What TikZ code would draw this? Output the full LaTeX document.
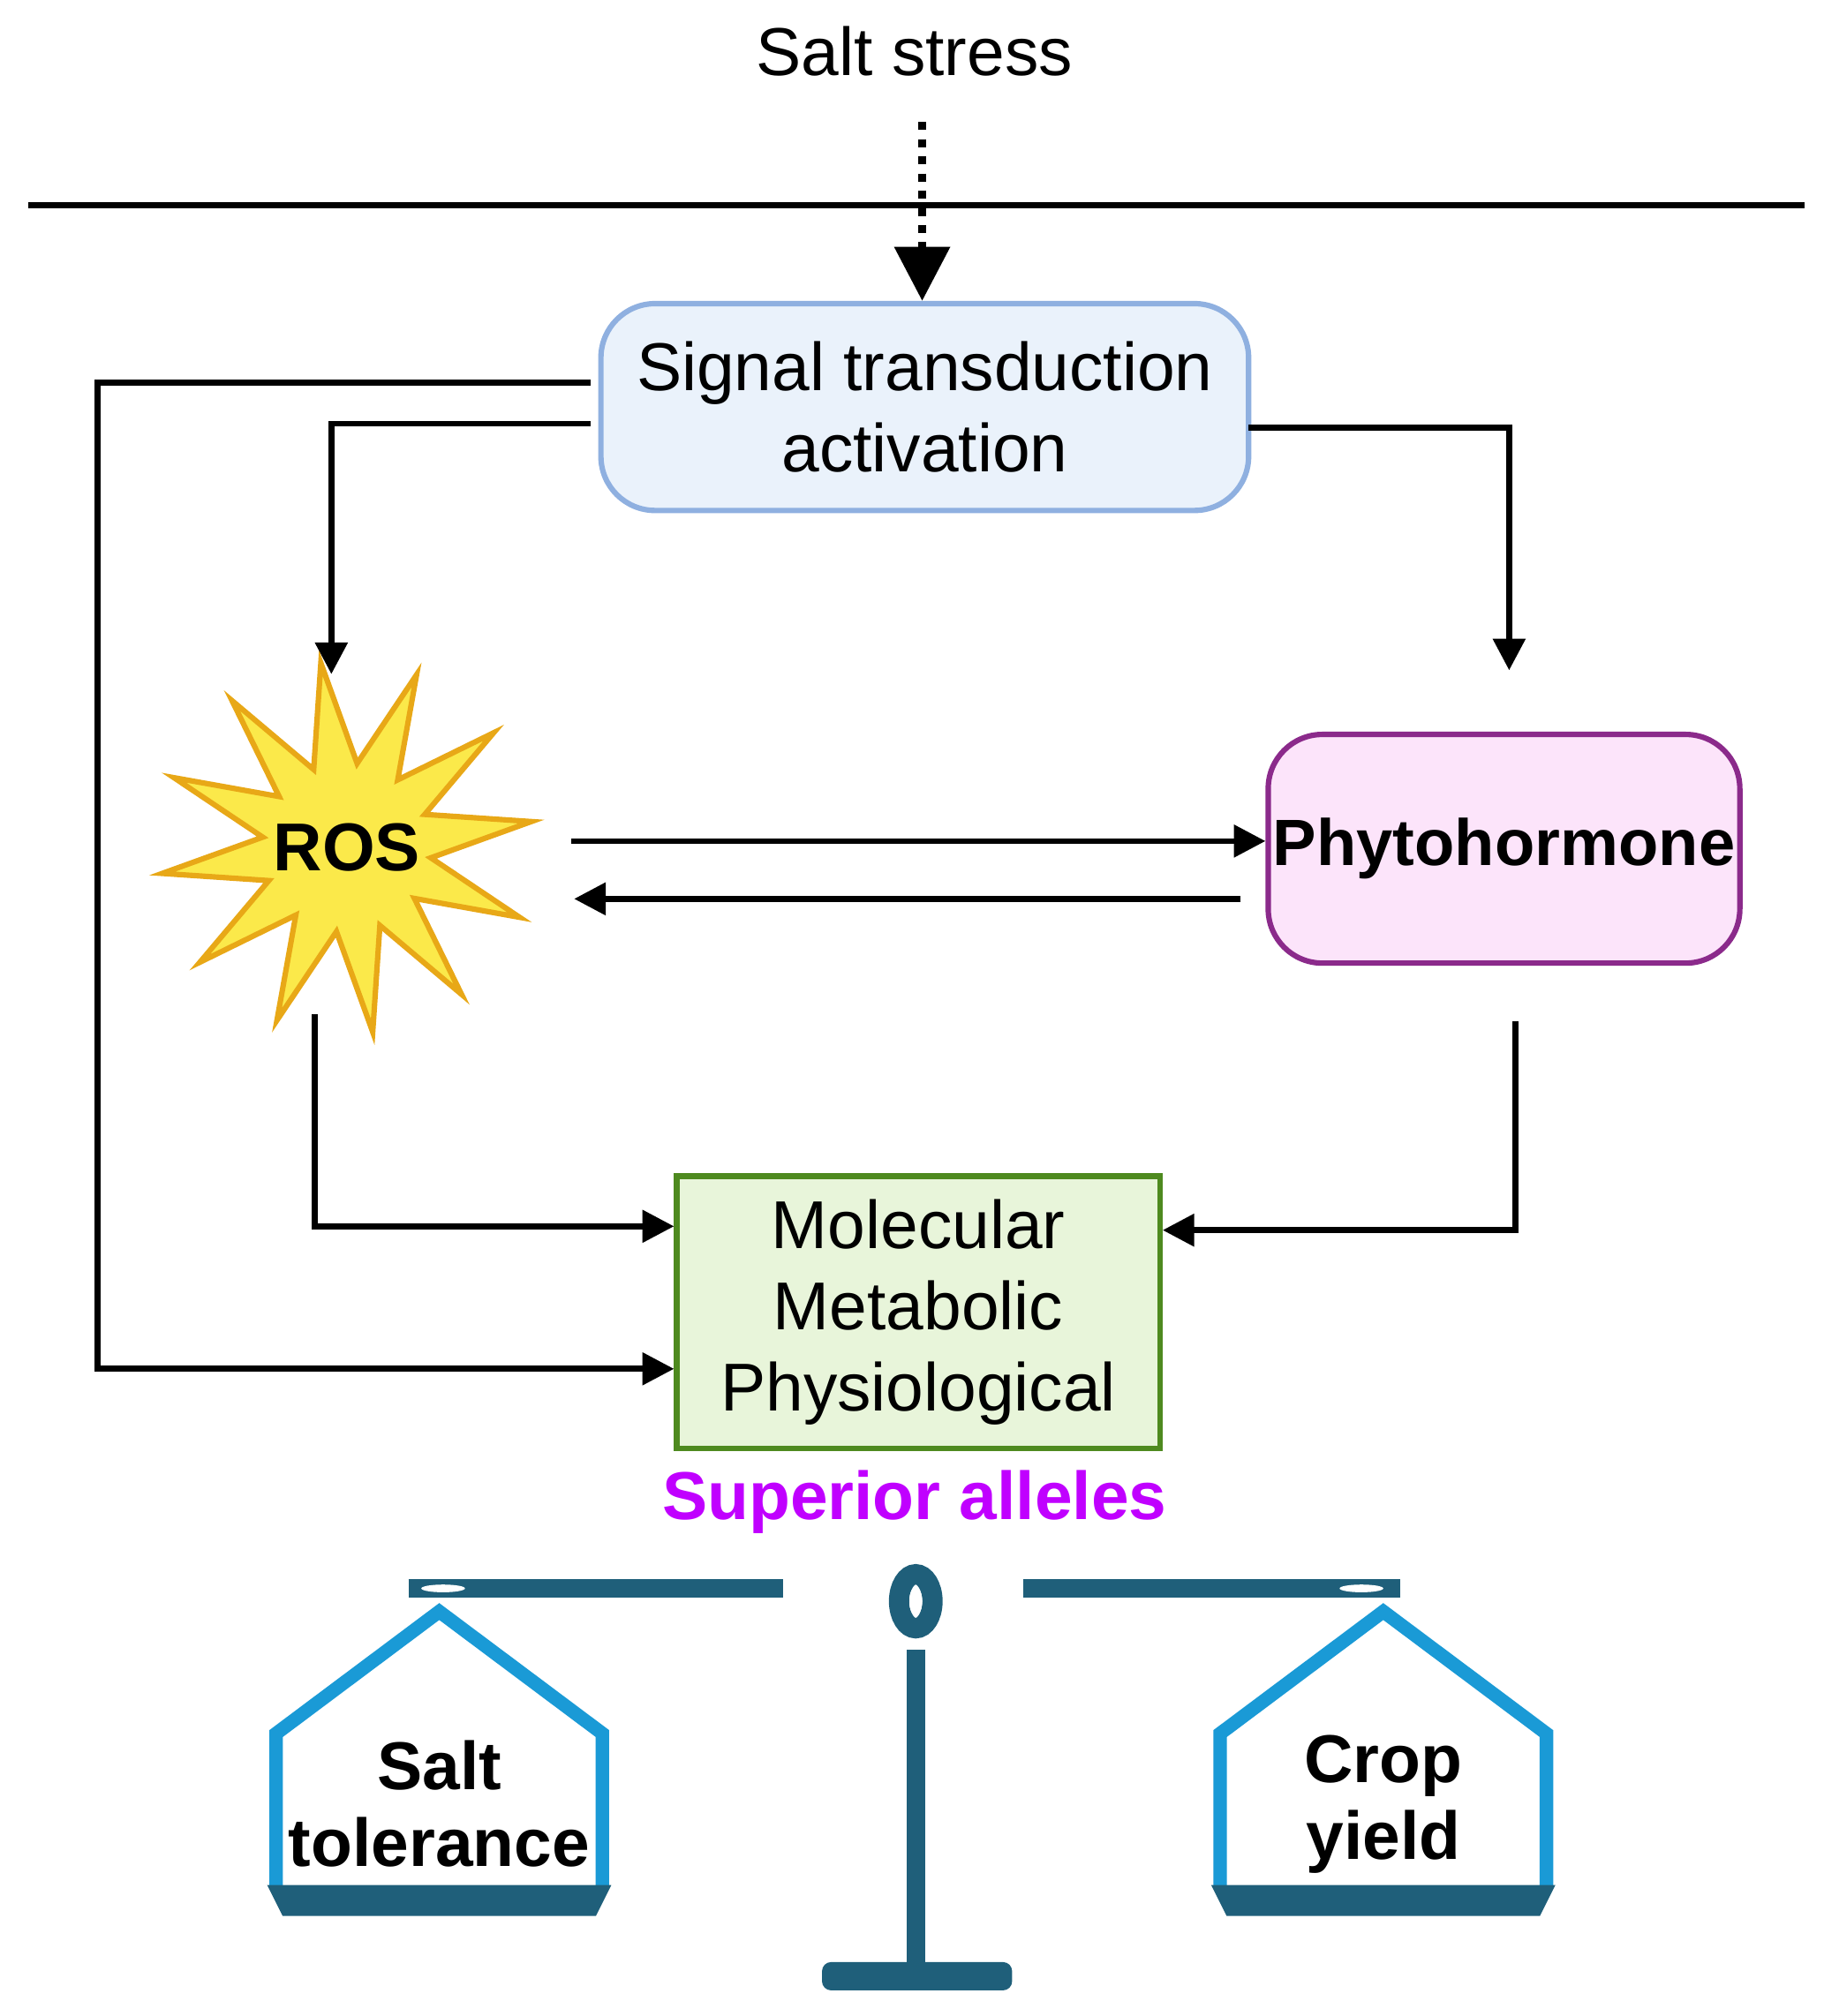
\documentclass[tikz,border=0pt]{standalone}
\usepackage{fontspec}
\setmainfont{Liberation Sans}
\usetikzlibrary{arrows.meta,shapes.geometric,shapes.misc,calc}
\definecolor{sigfill}{HTML}{EAF2FB}
\definecolor{sigdraw}{HTML}{8FB0E0}
\definecolor{rosfill}{HTML}{FBE94A}
\definecolor{rosdraw}{HTML}{E8A817}
\definecolor{phyfill}{HTML}{FCE4FA}
\definecolor{phydraw}{HTML}{8B2A8B}
\definecolor{molfill}{HTML}{E8F5DA}
\definecolor{moldraw}{HTML}{4E8A1F}
\definecolor{allele}{HTML}{C000FF}
\definecolor{beam}{HTML}{1F5F7A}
\definecolor{pan}{HTML}{1A9AD6}
\begin{document}
\begin{tikzpicture}[x=0.01cm,y=-0.01cm,
        A/.style = {line width=1.3pt,
                    -{Triangle[length=7pt,width=7pt]}},
        T/.style = {font=\fontsize{15}{18}\selectfont, align=center},
      box/.style = {T, rounded corners=12pt, line width=1.2pt}
                                ]
        \useasboundingbox (0,0) rectangle (1420,1570);
        % stimulus
        \node[T] (salt) at (712,40) {Salt stress};
        \draw[line width=1.3pt] (22,160) -- (1405,160);
        \coordinate (in) at (718,95);
        % boxes
        \node[box, draw=sigdraw, fill=sigfill, minimum width=5.04cm,
              minimum height=1.61cm] (sig) at (720,317)
              {Signal transduction\\activation};
        \draw[line width=1.8pt, dotted, -{Triangle[length=12pt,width=12pt]}]
              (in) -- (sig.north -| in);
        \node[star, star points=12, star point ratio=2.2,
              minimum size=2.9cm, fill=rosfill, draw=rosdraw,
              line width=1.2pt, rotate=8, inner sep=0pt] (ros) at (270,660) {};
        \node[T, font=\fontsize{15}{18}\selectfont\bfseries] at (ros) {ROS};
        \node[box, draw=phydraw, fill=phyfill, minimum width=3.67cm,
              minimum height=1.78cm, inner sep=1pt,
              font=\fontsize{14.5}{18}\selectfont\bfseries] (phy) at (1171,661)
              {Phytohormone};
        \node[T, draw=moldraw, fill=molfill, line width=1.2pt,
              minimum width=3.76cm, minimum height=2.12cm,
              inner sep=0pt] (mol) at (715,1022)
              {Molecular\\Metabolic\\Physiological};
        \node[T, font=\fontsize{15}{18}\selectfont\bfseries, text=allele]
              (sup) at (712,1170) {Superior alleles};
        % connectors
        \coordinate (l1) at (460,298);
        \coordinate (l2) at (460,330);
        \coordinate (r1) at (972,333);
        \draw[A] (l1) -- (76,298) |- (mol.west |- 0,1066);
        \draw[A] (l2) -| (258,525);
        \draw[A] (r1) -| (1175,522);
        \draw[A] (445,655) -- (phy.west |- 0,655);
        \draw[A] (966,700) -- (447,700);
        \draw[A] (245,790) |- (mol.west |- 0,955);
        \draw[A] (1180,795) |- (mol.east |- 0,958);
        % balance
        \draw[beam, line width=4pt] (318,1237) -- (610,1237)
                                    (797,1237) -- (1090,1237);
        \fill[white] (345,1237) ellipse (17 and 3);
        \fill[white] (1060,1237) ellipse (17 and 3);
        \draw[beam, line width=4.5pt] (713,1247) ellipse (13 and 21);
        \fill[white] (713,1247) ellipse (5 and 11);
        \draw[beam, line width=4pt] (713,1285) -- (713,1530);
        \fill[beam, rounded corners=2pt] (640,1528) rectangle (788,1550);
        \foreach \c/\t/\n in {342/{Salt\\tolerance}/left, 1077/{Crop\\yield}/right}{
            \draw[pan, line width=3pt] ($(\c,1470)+(-127,0)$) -- ++(0,-120)
                -- (\c,1255) -- ($(\c,1350)+(127,0)$) -- ++(0,120);
            \fill[beam] ($(\c,1468)+(-134,0)$) -- ++(268,0)
                -- ++(-12,24) -- ++(-244,0) -- cycle;
            \node[T, font=\fontsize{15}{17}\selectfont\bfseries] (\n) at (\c,1405) {\t};
        }
    \end{tikzpicture}
\end{document}
